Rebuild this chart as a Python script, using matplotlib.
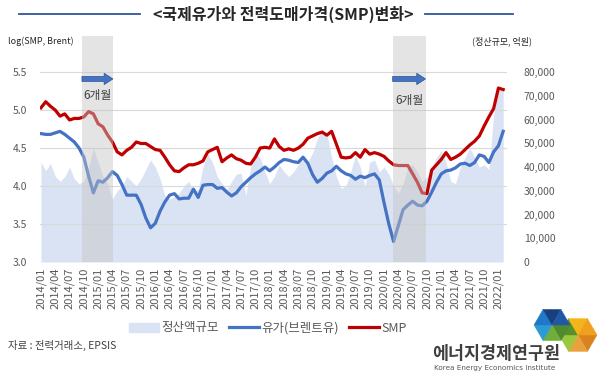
import numpy as np
import pandas as pd
import matplotlib
matplotlib.use('Agg')
import matplotlib.pyplot as plt
from matplotlib.lines import Line2D
from matplotlib.patches import Patch, Polygon
from matplotlib.ticker import FuncFormatter

plt.rcParams['font.family'] = ['Noto Sans CJK KR', 'DejaVu Sans']

# -------------------------------------------------------
#   data (monthly, 2014/01 - 2022/02)
# -------------------------------------------------------
months = pd.date_range('2014-01-01', periods=98, freq='MS').strftime('%Y/%m').tolist()

smp_log = [5.03, 5.11, 5.05, 5.00, 4.92, 4.95, 4.87, 4.89, 4.89, 4.91,
           4.98, 4.95, 4.82, 4.78, 4.67, 4.58, 4.45, 4.41, 4.47, 4.51,
           4.58, 4.56, 4.56, 4.52, 4.48, 4.47, 4.38, 4.28, 4.20, 4.19,
           4.24, 4.28, 4.28, 4.30, 4.33, 4.45, 4.48, 4.51, 4.32, 4.37,
           4.41, 4.36, 4.34, 4.30, 4.29, 4.38, 4.50, 4.51, 4.50, 4.62,
           4.52, 4.47, 4.49, 4.47, 4.50, 4.55, 4.63, 4.66, 4.69, 4.71,
           4.67, 4.72, 4.55, 4.38, 4.37, 4.38, 4.44, 4.38, 4.48, 4.42,
           4.44, 4.42, 4.39, 4.33, 4.28, 4.27, 4.27, 4.27, 4.16, 4.05,
           3.91, 3.90, 4.21, 4.28, 4.35, 4.44, 4.35, 4.38, 4.42, 4.48,
           4.54, 4.59, 4.66, 4.79, 4.91, 5.02, 5.29, 5.27]

brent_log = [4.69, 4.68, 4.68, 4.70, 4.72, 4.68, 4.63, 4.58, 4.50, 4.38,
             4.13, 3.91, 4.07, 4.05, 4.11, 4.19, 4.14, 4.02, 3.88, 3.88,
             3.88, 3.76, 3.58, 3.45, 3.51, 3.67, 3.79, 3.88, 3.90, 3.83,
             3.84, 3.84, 3.96, 3.85, 4.01, 4.02, 4.02, 3.97, 3.98, 3.92,
             3.87, 3.91, 3.99, 4.05, 4.11, 4.16, 4.20, 4.25, 4.20, 4.25,
             4.31, 4.35, 4.34, 4.32, 4.31, 4.38, 4.30, 4.15, 4.05, 4.10,
             4.17, 4.20, 4.26, 4.20, 4.16, 4.14, 4.09, 4.13, 4.11, 4.14,
             4.16, 4.08, 3.78, 3.50, 3.27, 3.48, 3.69, 3.75, 3.80, 3.75,
             3.74, 3.80, 3.92, 4.05, 4.16, 4.20, 4.21, 4.24, 4.29, 4.30,
             4.27, 4.31, 4.41, 4.39, 4.31, 4.45, 4.53, 4.72]

# settlement amount (억원, right axis)
settle_amt = [42000, 38500, 41500, 36000, 34000, 36000, 40000, 35000, 33000, 34000,
              40000, 48000, 42000, 36000, 33000, 26500, 30000, 32000, 36000, 34000,
              32000, 35000, 39000, 43000, 40000, 35000, 28000, 26500, 27500, 29000,
              32000, 34000, 30000, 30500, 40000, 45500, 42000, 36000, 33000, 30500,
              34000, 37000, 37500, 28000, 40000, 46000, 44000, 38000, 33000, 36000,
              41000, 38000, 36000, 38000, 41000, 44000, 42000, 46000, 52000, 56000,
              54000, 44000, 36000, 31000, 32000, 38000, 45000, 40000, 32000, 42000,
              43000, 38000, 40000, 37000, 32000, 29000, 33000, 40000, 41000, 38000,
              34000, 36000, 40000, 44000, 47000, 42000, 34000, 33000, 40000, 44000,
              48000, 44000, 40000, 41000, 39000, 62000, 72000, 73000]

lag_periods = [(8.6, 15.1), (73.8, 80.7)]
lag_label = '6개월'

# -------------------------------------------------------
W, H = 600, 376
fig = plt.figure(figsize=(W / 100, H / 100), dpi=100)

ax_amt = fig.add_axes([40 / W, 1 - 262 / H, 467 / W, (262 - 36.4) / H])
ax = ax_amt.twinx()
ax.yaxis.tick_left()
ax_amt.yaxis.tick_right()

x = np.arange(len(months))
grey = '#595959'

ax_amt.fill_between(x, 0, settle_amt, color='#dae3f3', lw=0)
ax_amt.set_ylim(0, 80000 * 2.97 / 2.5)
ax_amt.set_yticks(range(0, 80001, 10000))
ax_amt.yaxis.set_major_formatter(FuncFormatter(lambda v, p: f'{int(v):,}'))

ax.plot(x, smp_log, color='#c00000', lw=2.3, zorder=3)
ax.plot(x, brent_log, color='#4472c4', lw=2.3, zorder=3)
ax.set_ylim(3.0, 5.97)
ax.set_yticks(np.arange(3.0, 5.51, 0.5))
ax.yaxis.set_major_formatter(FuncFormatter(lambda v, p: f'{v:.1f}'))
ax.grid(axis='y', color='#d9d9d9', lw=0.8, zorder=1)
ax.set_xlim(-0.2, 97.8)

ax_amt.set_xticks(x[::3])
ax_amt.set_xticklabels(months[::3], rotation=90)

for a in (ax, ax_amt):
    for s in a.spines.values():
        s.set_visible(False)
ax_amt.tick_params(axis='x', length=0, pad=4, labelsize=8, labelcolor=grey)
ax_amt.tick_params(axis='y', length=0, pad=12, labelsize=7.5, labelcolor=grey)
ax.tick_params(axis='y', length=0, pad=9, labelsize=7.5, labelcolor=grey)

# 6-month lag boxes, arrows and labels
for (a, b), ty in zip(lag_periods, [5.19, 5.13]):
    ax.axvspan(a, b, color='#c4c4c4', alpha=0.45, lw=0, zorder=5)
    ax.annotate('', xy=(b, 5.41), xytext=(a, 5.41), zorder=6,
                arrowprops=dict(arrowstyle='simple,head_width=0.9,head_length=0.7,tail_width=0.4',
                                fc='#4472c4', ec='#2f528f', lw=0.5, mutation_scale=9,
                                shrinkA=0, shrinkB=0))
    ax.text((a + b) / 2, ty, lag_label, ha='center', va='center', fontsize=8.5,
            color='#404040', zorder=6)

# title and axis headers
ty = 1 - 14 / H
fig.text(283 / W, ty, '<국제유가와 전력도매가격(SMP)변화>', ha='center', va='center',
         fontsize=11.5, weight='bold', color='#262626')
fig.add_artist(Line2D([19 / W, 140 / W], [ty, ty], color='#2f5597', lw=1.3))
fig.add_artist(Line2D([425 / W, 513 / W], [ty, ty], color='#2f5597', lw=1.3))
fig.text(8 / W, 1 - 41 / H, 'log(SMP, Brent)', fontsize=6.5, va='center', color='#262626')
fig.text(472 / W, 1 - 41 / H, '(정산규모, 억원)', fontsize=6.5, va='center', color='#262626')

# legend
handles = [Patch(color='#dae3f3'),
           Line2D([], [], color='#4472c4', lw=2.3),
           Line2D([], [], color='#c00000', lw=2.3)]
leg = fig.legend(handles, ['정산액규모', '유가(브렌트유)', 'SMP'], loc='center',
                 bbox_to_anchor=(268 / W, 1 - 328 / H), ncol=3, frameon=False,
                 fontsize=9, handlelength=2.4, handletextpad=0.2, columnspacing=0.8)
for t in leg.get_texts():
    t.set_color(grey)

fig.text(8 / W, 1 - 345 / H, '자료 : 전력거래소, EPSIS', fontsize=7.5, va='center',
         color='#404040')

# KEEI logo
lax = fig.add_axes([0, 0, 1, 1])
lax.set_xlim(0, W)
lax.set_ylim(H, 0)
lax.axis('off')


def hexagon(cx, cy, r, colors):
    ang = np.deg2rad(np.arange(0, 361, 60))
    vx = cx + r * np.cos(ang)
    vy = cy + r * np.sin(ang)
    for i, c in enumerate(colors):
        lax.add_patch(Polygon([(cx, cy), (vx[i], vy[i]), (vx[i + 1], vy[i + 1])],
                              closed=True, fc=c, ec=c, lw=0.3))


hexagon(578, 335, 19, ['#d9831f', '#e9a23b', '#9cc83f', '#5b8f2a', '#f3b51c', '#f0a01e'])
hexagon(552, 325, 18, ['#4e8a2e', '#6fae3a', '#2d9ad6', '#1f78c8', '#17407e', '#2257a6'])
lax.text(432, 354, '에너지경제연구원', fontsize=12.5, weight='bold', color='#404040', va='center')
lax.text(434, 368, 'Korea Energy Economics Institute', fontsize=5.2, color=grey,
         va='center', family='DejaVu Sans')

fig.savefig('out.png', dpi=100)
